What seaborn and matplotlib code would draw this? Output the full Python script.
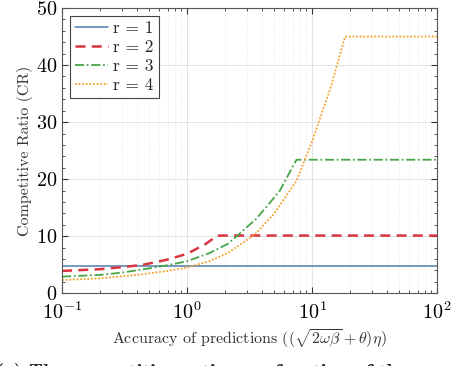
import matplotlib
matplotlib.use("Agg")
import matplotlib.pyplot as plt
import numpy as np
import pandas as pd
import seaborn as sns

# competitive ratio curves
x_r1 = [0.1, 100]
cr_r1 = [4.85, 4.85]

x_r2 = [0.1, 0.2, 0.3, 0.45, 0.7, 1.0, 1.4, 1.75, 100]
cr_r2 = [3.9, 4.2, 4.55, 5.0, 5.9, 6.9, 8.6, 10.1, 10.1]

x_r3 = [0.1, 0.2, 0.3, 0.45, 0.7, 1.0, 1.5, 2.1, 2.5, 3.6, 5.5, 7.5, 100]
cr_r3 = [2.9, 3.2, 3.6, 4.2, 4.9, 5.6, 7.0, 8.6, 10.0, 13.1, 17.9, 23.4, 23.4]

x_r4 = [0.1, 0.2, 0.3, 0.45, 0.7, 1.0, 1.5, 2.1, 3.5, 5.0, 7.5, 10.0, 14.0, 18.4, 100]
cr_r4 = [2.3, 2.6, 2.95, 3.35, 3.9, 4.5, 5.6, 7.0, 10.3, 14.0, 19.7, 26.6, 35.9, 45.0, 45.0]

labels = ["r = 1", "r = 2", "r = 3", "r = 4"]
colors = ["#4f7fae", "#d9343f", "#47a447", "#f7a12a"]
styles = ["-", (0, (4, 2.5)), (0, (5, 1.5, 1, 1.5)), (0, (1, 1))]
widths = [1.1, 1.8, 1.3, 1.3]

sns.set_style("ticks")
plt.rcParams["font.family"] = "serif"
plt.rcParams["font.serif"] = ["cmr10", "DejaVu Serif"]
plt.rcParams["mathtext.fontset"] = "cm"
plt.rcParams["axes.unicode_minus"] = False
plt.rcParams["axes.formatter.use_mathtext"] = True

fig = plt.figure(figsize=(4.74, 3.66), dpi=100)
ax = fig.add_axes([0.131, 0.199, 0.791, 0.779])

series = [(x_r1, cr_r1), (x_r2, cr_r2), (x_r3, cr_r3), (x_r4, cr_r4)]
for (xs, ys), lab, c, ls, lw in zip(series, labels, colors, styles, widths):
    df = pd.DataFrame({"acc": xs, "cr": ys})
    sns.lineplot(data=df, x="acc", y="cr", ax=ax, color=c, linestyle=ls,
                 linewidth=lw, label=lab)

ax.set_xscale("log")
ax.set_xlim(0.1, 100)
ax.set_ylim(0, 50)
ax.set_yticks([0, 10, 20, 30, 40, 50])
ax.yaxis.set_minor_locator(matplotlib.ticker.MultipleLocator(2))

ax.grid(which="major", color="#dedede", linewidth=0.6)
ax.grid(which="minor", axis="x", color="#e3e3e3", linewidth=0.5, linestyle=":")
ax.tick_params(which="both", direction="in", top=True, right=True,
               labelsize=14.5, colors="#333333", labelcolor="black")
ax.tick_params(which="major", length=4)
ax.tick_params(which="minor", length=2)
ax.tick_params(axis="x", pad=6)
for sp in ax.spines.values():
    sp.set_color("#555555")
    sp.set_linewidth(0.8)

ax.set_xlabel(r"Accuracy of predictions $((\sqrt{2\omega\beta}+\theta)\eta)$",
              fontsize=11.5, color="#333333", labelpad=3)
ax.set_ylabel("Competitive Ratio (CR)", fontsize=11.5, color="#333333",
              labelpad=2)

leg = ax.legend(loc="upper left", fontsize=12.5, handlelength=1.9,
                handletextpad=0.3, borderaxespad=0.45, labelspacing=0.2,
                fancybox=False, framealpha=1, edgecolor="#444444",
                borderpad=0.3)
leg.get_frame().set_linewidth(0.8)

fig.text(-0.008, -0.032, "(a) The competitive ratio as a function of the parameter",
         fontsize=14.8, family="cmb10", ha="left", va="baseline")

fig.savefig("out.png", dpi=100)
